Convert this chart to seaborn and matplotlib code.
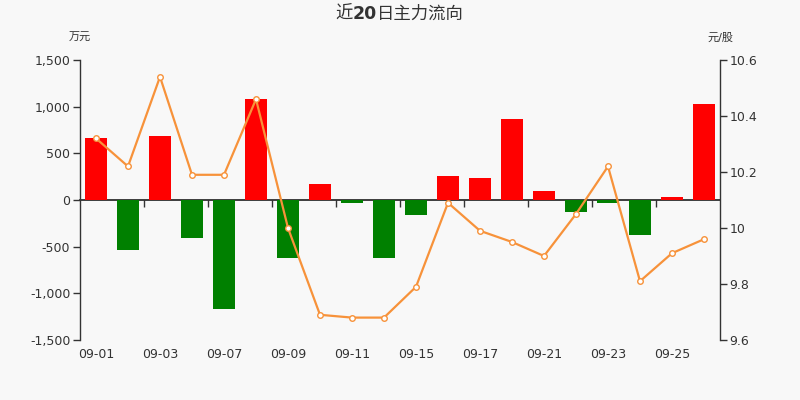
import matplotlib
matplotlib.use("Agg")
import matplotlib.pyplot as plt
import seaborn as sns
import numpy as np
import pandas as pd

dates = ["09-01", "09-02", "09-03", "09-04", "09-07", "09-08", "09-09", "09-10", "09-11", "09-14",
         "09-15", "09-16", "09-17", "09-18", "09-21", "09-22", "09-23", "09-24", "09-25", "09-28"]
flow = [665, -539, 682, -411, -1172, 1086, -618, 168, -29, -618,
        -164, 254, 232, 868, 96, -129, -29, -379, 36, 1029]
price = [10.32, 10.22, 10.54, 10.19, 10.19, 10.46, 10.00, 9.69, 9.68, 9.68,
         9.79, 10.09, 9.99, 9.95, 9.90, 10.05, 10.22, 9.81, 9.91, 9.96]
title_parts = ["近", "20", "日主力流向"]

sns.set_theme(style="white")
plt.rcParams['font.family'] = ['DejaVu Sans', 'Noto Sans CJK SC']

bg = "#f8f8f8"
dark = "#333333"
fig = plt.figure(figsize=(8, 4), dpi=100, facecolor=bg)
ax = fig.add_axes([0.1, 0.15, 0.8, 0.7], facecolor=bg)

df = pd.DataFrame({"date": dates, "flow": flow, "price": price})
df["pos"] = np.arange(len(df))
colors = ["#ff0000" if v >= 0 else "#008000" for v in flow]
sns.barplot(data=df, x="date", y="flow", hue="date", palette=colors, legend=False,
            width=0.69, ax=ax, saturation=1, linewidth=0)

ax.set_xlim(-0.5, len(dates) - 0.5)
ax.set_ylim(-1500, 1500)
ax.set_yticks([-1500, -1000, -500, 0, 500, 1000, 1500])
ax.set_yticklabels([f"{v:,}" for v in [-1500, -1000, -500, 0, 500, 1000, 1500]])
ax.set_xticks(range(0, len(dates), 2))
ax.set_xticklabels(dates[::2])
ax.set_xlabel("")
ax.set_ylabel("")
ax.tick_params(axis="x", length=0, pad=6, labelsize=9, colors=dark)
ax.tick_params(axis="y", length=5, width=1, direction="out", labelsize=9, colors=dark, pad=2)
ax.tick_params(axis="y", left=True)
for s in ["top", "right", "bottom"]:
    ax.spines[s].set_visible(False)
ax.spines["left"].set_color(dark)
ax.spines["left"].set_linewidth(1)

# zero axis line with category boundary ticks
sec = ax.secondary_xaxis(0.5)
sec.set_xticks(np.arange(1.5, len(dates) - 1, 2))
sec.set_xticklabels([])
sec.tick_params(length=5, width=1, direction="in", colors=dark)
sec.spines["bottom"].set_color(dark)
sec.spines["bottom"].set_linewidth(1)

ax2 = ax.twinx()
sns.lineplot(data=df, x="pos", y="price", ax=ax2, color="#f7923a", linewidth=1.6,
             marker="o", markersize=4, markerfacecolor="white", markeredgecolor="#f7923a",
             markeredgewidth=1)
ax2.set_ylim(9.6, 10.6)
ax2.set_yticks([9.6, 9.8, 10.0, 10.2, 10.4, 10.6])
ax2.set_yticklabels(["9.6", "9.8", "10", "10.2", "10.4", "10.6"])
ax2.set_xlim(-0.5, len(dates) - 0.5)
ax2.set_xlabel("")
ax2.set_ylabel("")
ax2.tick_params(axis="y", right=True, length=5, width=1, direction="out", labelsize=9, colors=dark, pad=2)
for s in ["top", "left", "bottom"]:
    ax2.spines[s].set_visible(False)
ax2.spines["right"].set_color(dark)
ax2.spines["right"].set_linewidth(1)
ax2.grid(False)
ax.grid(False)

# title: CJK regular, digits bold
weights = ["normal", "bold", "normal"]
renderer = fig.canvas.get_renderer()
texts = []
prev = None
for part, w in zip(title_parts, weights):
    if prev is None:
        t = fig.text(0.0, 0.965, part, ha="left", va="center", fontsize=12.5, color=dark, fontweight=w)
    else:
        t = fig.text(0, 0, part, ha="left", va="center", fontsize=12.5, color=dark, fontweight=w,
                     transform=matplotlib.transforms.offset_copy(fig.transFigure, fig=fig, x=0, y=0))
    texts.append(t)
    prev = t
# layout pieces horizontally, centered
widths = [t.get_window_extent(renderer).width for t in texts]
total = sum(widths)
x = 400 - total / 2
for t, w in zip(texts, widths):
    t.set_transform(matplotlib.transforms.IdentityTransform())
    t.set_position((x, 400 * 0.965))
    x += w

fig.text(0.1, 0.905, "万元", ha="center", va="center", fontsize=8, color=dark)
fig.text(0.9, 0.905, "元/股", ha="center", va="center", fontsize=8, color=dark)

fig.savefig("out.png", dpi=100, facecolor=bg)
